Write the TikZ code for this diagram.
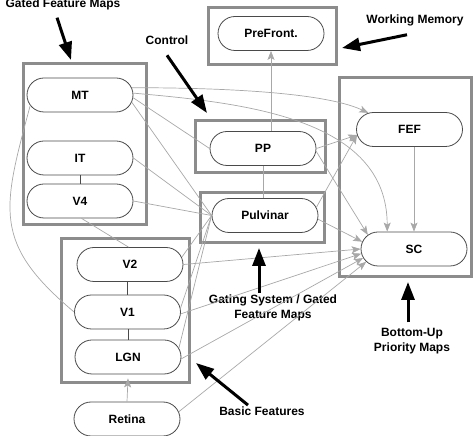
\documentclass[tikz,border=0pt]{standalone}
\usepackage{fontspec}
\setsansfont{Liberation Sans}
\usetikzlibrary{arrows.meta, positioning, shapes.misc, backgrounds}
\definecolor{cframe}{HTML}{8C8C8C}
\definecolor{clink}{HTML}{A8A8A8}
\definecolor{cedge}{HTML}{4A4A4A}
\tikzset{
  every picture/.style={font=\sffamily\bfseries\fontsize{12}{15}\selectfont, x=1pt, y=1pt},
  unit/.style={rounded rectangle, draw=cedge, fill=white, line width=0.8pt, minimum width=106pt, minimum height=34pt, inner sep=0pt},
  area/.style={draw=cframe, line width=3pt},
  link/.style={draw=clink, line width=0.7pt},
  feed/.style={link, -{Stealth[length=9pt, width=7pt, inset=2pt]}},
  wire/.style={draw=cedge, line width=0.7pt},
  pointer/.style={-{Triangle[length=18pt, width=13pt]}, draw=black, line width=3pt},
  caption/.style={align=center, inner sep=2pt},
}

\begin{document}
\begin{tikzpicture}
  \useasboundingbox (0,0) rectangle (474,436);

  % ---- areas
  \node[unit] (mt)     at (80,341)    {MT};
  \node[unit] (it)     at (80,278)    {IT};
  \node[unit] (vfour)  at (80,235)    {V4};
  \node[unit] (vtwo)   at (130,171.5) {V2};
  \node[unit] (vone)   at (127.5,124) {V1};
  \node[unit] (lgn)    at (128,79)    {LGN};
  \node[unit] (retina) at (127,17)    {Retina};
  \node[unit] (pfc)    at (271,402.5) {PreFront.};
  \node[unit] (pp)     at (263,287.5) {PP};
  \node[unit] (pulv)   at (265,220.5) {Pulvinar};
  \node[unit] (fef)    at (409.5,306.5) {FEF};
  \node[unit] (sc)     at (414,187)   {SC};

  \begin{scope}[on background layer]
    \draw[area] (23,211) rectangle (146,372);
    \draw[area] (61,53) rectangle (189,197);
    \draw[area] (208,371) rectangle (336,428);
    \draw[area] (195,263) rectangle (325,315);
    \draw[area] (200,193) rectangle (324,243);
    \draw[area] (339,159) rectangle (471,358);
  \end{scope}

  % ---- captions
  \node[caption, anchor=base] (gfmlabel) at (63,428)  {Gated Feature Maps};
  \node[caption, anchor=base] (ctrl)     at (167,391) {Control};
  \node[caption, anchor=base] (wm)       at (415,412) {Working Memory};
  \node[caption] (gate)  at (273,128) {Gating System / Gated\\Feature Maps};
  \node[caption] (bu)    at (412,94.5) {Bottom-Up\\Priority Maps};
  \node[caption, anchor=base] (basic)    at (262,20)  {Basic Features};

  \coordinate (gfmtip)   at (71,376);
  \coordinate (ctrltip)  at (207,323);
  \coordinate (wmtip)    at (342,388);
  \coordinate (gatetip)  at (259,188);
  \coordinate (butip)    at (408,154);
  \coordinate (basictip) at (196,73);

  % ---- chains inside the areas
  \draw[wire] (it.south) -- (vfour.north);
  \draw[wire] (vone.north) -- (vone.north |- vtwo.south);
  \draw[wire] (lgn.north) -- (lgn.north |- vone.south);
  \draw[feed] (retina.north) -- ([yshift=-4pt]lgn.south);
  \draw[feed] (sc.north |- fef.south) -- (sc.north);
  \draw[feed] (pp.north -| pfc.south) -- (pfc.south);
  \draw[link] (pp.south) -- (pp.south |- pulv.north);

  % from MT
  \draw[feed] (mt.8) to[out=0, in=155, looseness=0.6] (fef.158);
  \draw[feed] (mt.2) to[out=-5, in=90] (sc.147);
  \draw[link] (mt.-3) -- (pp.west);
  \draw[link] (mt.-8) -- (pulv.west);
  \draw[link] (mt.192) to[out=-105, in=140, looseness=1.3] (vone.west);

  % into pulvinar
  \draw[link] (it.east) -- (pulv.west);
  \draw[link] (vfour.east) -- (pulv.west);
  \draw[link] (vfour.-85) -- (vtwo.95);
  \foreach \a/\k in {vtwo/8, vone/4, lgn/10} \draw[link] (\a.\k) -- (pulv.west);

  % into FEF and SC
  \draw[feed] (pp.east) -- (fef.186);
  \draw[feed] (pulv.9) -- (fef.186);
  \draw[feed] (pp.-3) -- (sc.163);
  \draw[feed] (pulv.-4) -- (sc.172);
  \draw[feed] (vtwo.east) -- (sc.west);
  \draw[feed] (vone.-2) -- (sc.185);
  \draw[feed] (lgn.-2) -- (sc.190);
  \draw[feed] (retina.8) -- (sc.195);

  % ---- pointers
  \draw[pointer] ([xshift=-6pt, yshift=-5pt]gfmlabel.south) -- (gfmtip);
  \draw[pointer] ([yshift=-8pt]ctrl.south) -- (ctrltip);
  \draw[pointer] ([xshift=-8pt, yshift=-6pt]wm.south) -- (wmtip);
  \draw[pointer] ([xshift=-14pt]gate.north) -- (gatetip);
  \draw[pointer] ([xshift=-4pt, yshift=4pt]bu.north) -- (butip);
  \draw[pointer] ([xshift=-14pt]basic.north) -- (basictip);
\end{tikzpicture}
\end{document}
